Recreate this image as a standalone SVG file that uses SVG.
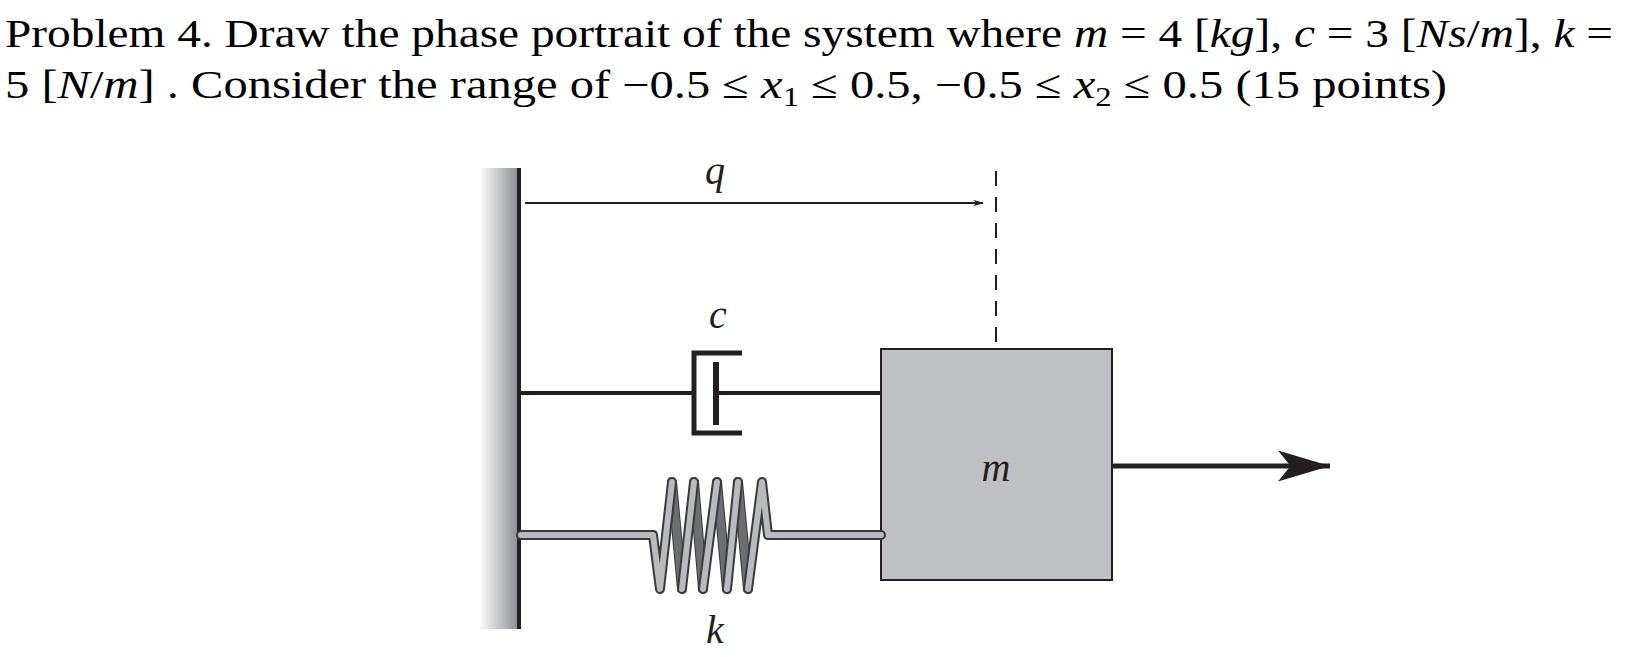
<svg xmlns="http://www.w3.org/2000/svg" width="1647" height="657" viewBox="0 0 1647 657">
<defs>
<linearGradient id="wg" x1="0" x2="1" y1="0" y2="0"><stop offset="0" stop-color="#fff"/><stop offset="1" stop-color="#8e8f93"/></linearGradient>
<marker id="ah" viewBox="0 0 10 10" refX="9" refY="5" markerWidth="11" markerHeight="11" markerUnits="userSpaceOnUse" orient="auto"><path d="M0,2 L10,5 L0,8 L3,5 Z" fill="#231f20"/></marker>
<marker id="big" viewBox="0 0 50 30" refX="50" refY="15" markerWidth="52" markerHeight="32" markerUnits="userSpaceOnUse" orient="auto"><path d="M0,0 L50,15 L0,30 L12,15 Z" fill="#231f20"/></marker>
</defs>
<style>
.t{font-family:'Liberation Serif','Times New Roman',serif;font-size:40px;fill:#000}
.i{font-style:italic}
.lab{font-family:'Liberation Serif','Times New Roman',serif;font-style:italic;font-size:40px;fill:#231f20}
.k{stroke:#231f20;fill:none}
.so{fill:none;stroke:#3a3a3c;stroke-width:10;stroke-linecap:round;stroke-linejoin:round}
.si{fill:none;stroke:#b9babe;stroke-width:6;stroke-linecap:round;stroke-linejoin:round}
.sb{fill:none;stroke:#6d6e71;stroke-width:8;stroke-linecap:round}
</style>
<rect width="1647" height="657" fill="#fff"/>
<g id="title">
<text class="t" x="5" y="47" textLength="1608" lengthAdjust="spacingAndGlyphs">Problem 4.  Draw the phase portrait of the system where <tspan class="i">m</tspan> = 4 [<tspan class="i">kg</tspan>], <tspan class="i">c</tspan> = 3 [<tspan class="i">Ns</tspan>/<tspan class="i">m</tspan>], <tspan class="i">k</tspan> =</text>
<text class="t" x="5" y="98" textLength="1442" lengthAdjust="spacingAndGlyphs">5 [<tspan class="i">N</tspan>/<tspan class="i">m</tspan>] . Consider the range of −0.5 ≤ <tspan class="i">x</tspan><tspan font-size="27" dy="8">1</tspan><tspan dy="-8"> ≤ 0.5, −0.5 ≤ </tspan><tspan class="i">x</tspan><tspan font-size="27" dy="8">2</tspan><tspan dy="-8"> ≤ 0.5 (15 points)</tspan></text>
</g>
<g id="wall">
<rect x="479" y="168" width="39" height="461" fill="url(#wg)"/>
<line class="k" x1="519" y1="168" x2="519" y2="629" stroke-width="4"/>
</g>
<g id="mass">
<rect x="881" y="349" width="231" height="231" fill="#bfc0c4" stroke="#231f20" stroke-width="2"/>
<text class="lab" x="996" y="481" text-anchor="middle">m</text>
</g>
<g id="damper">
<path class="k" stroke-width="5" d="M742,353 H694 V433 H742"/>
<line class="k" x1="716" y1="362" x2="716" y2="425" stroke-width="6"/>
<text class="lab" x="718" y="328" text-anchor="middle">c</text>
</g>
<g id="spring">
<path class="so" d="M672,482 L682,589 M694,482 L703,589 M717,482 L727,589 M738,482 L748,589"/>
<path class="sb" d="M672,482 L682,589 M694,482 L703,589 M717,482 L727,589 M738,482 L748,589"/>
<path class="so" d="M521,535 H653 L660,589 L672,482 M682,589 L694,482 M703,589 L717,482 M727,589 L738,482 M748,589 L762,482 L768,535 H881"/>
<path class="si" d="M521,535 H653 L660,589 L672,482 M682,589 L694,482 M703,589 L717,482 M727,589 L738,482 M748,589 L762,482 L768,535 H881"/>
<text class="lab" x="715" y="643" text-anchor="middle">k</text>
</g>
<g id="connectors">
<line class="k" x1="521" y1="393" x2="694" y2="393" stroke-width="4"/>
<line class="k" x1="716" y1="393" x2="881" y2="393" stroke-width="4"/>
<line class="k" x1="525" y1="203" x2="983" y2="203" stroke-width="2" marker-end="url(#ah)"/>
<line class="k" x1="996" y1="171" x2="996" y2="348" stroke-width="2" stroke-dasharray="15,11"/>
<line class="k" x1="1112" y1="466" x2="1330" y2="466" stroke-width="5" marker-end="url(#big)"/>
<text class="lab" x="715" y="184" text-anchor="middle">q</text>
</g>
</svg>
